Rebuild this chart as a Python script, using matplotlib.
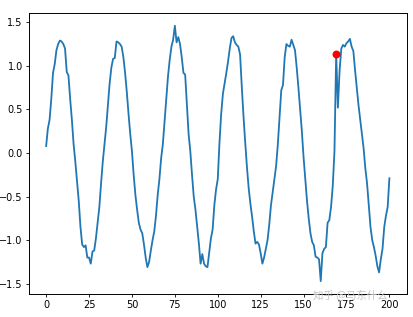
import matplotlib
matplotlib.use("Agg")
import matplotlib.pyplot as plt

# series values, x = 0..200
values = [
    0.08, 0.28, 0.38, 0.62, 0.92, 1.02, 1.18, 1.25, 1.29, 1.28,
    1.25, 1.20, 0.93, 0.89, 0.62, 0.38, 0.10, -0.10, -0.32, -0.55,
    -0.85, -1.05, -1.08, -1.06, -1.20, -1.20, -1.27, -1.13, -1.12, -0.98,
    -0.80, -0.62, -0.35, -0.10, 0.10, 0.30, 0.55, 0.80, 0.98, 1.08,
    1.09, 1.28, 1.27, 1.25, 1.22, 1.10, 0.92, 0.70, 0.45, 0.22,
    0.02, -0.25, -0.48, -0.65, -0.80, -0.88, -0.92, -1.05, -1.20, -1.31,
    -1.25, -1.12, -1.00, -0.90, -0.72, -0.48, -0.30, -0.06, 0.10, 0.36,
    0.62, 0.88, 1.07, 1.22, 1.30, 1.46, 1.27, 1.33, 1.25, 1.10,
    0.92, 0.90, 0.55, 0.22, 0.02, -0.25, -0.50, -0.65, -0.85, -1.04,
    -1.27, -1.16, -1.27, -1.30, -1.31, -1.15, -0.98, -0.88, -0.60, -0.42,
    -0.30, 0.12, 0.45, 0.68, 0.80, 0.92, 1.05, 1.20, 1.32, 1.34,
    1.27, 1.24, 1.22, 1.13, 0.76, 0.42, 0.12, -0.16, -0.40, -0.58,
    -0.73, -0.90, -1.04, -1.02, -1.05, -1.15, -1.27, -1.20, -1.10, -1.00,
    -0.82, -0.60, -0.45, -0.30, -0.15, 0.10, 0.42, 0.72, 0.78, 1.10,
    1.25, 1.23, 1.22, 1.30, 1.24, 1.18, 0.98, 0.75, 0.50, 0.25,
    -0.05, -0.30, -0.55, -0.75, -0.92, -1.02, -1.06, -1.19, -1.20, -1.22,
    -1.47, -1.15, -1.10, -1.08, -0.80, -0.77, -0.62, -0.38, 0.02, 1.14,
    0.52, 0.95, 1.20, 1.24, 1.22, 1.26, 1.28, 1.31, 1.22, 1.17,
    0.95, 0.75, 0.55, 0.38, 0.20, 0.05, -0.18, -0.35, -0.60, -0.85,
    -1.00, -1.08, -1.18, -1.30, -1.37, -1.22, -1.10, -0.85, -0.72, -0.62,
    -0.29,
]
x = list(range(len(values)))

anomaly_x = [169]
anomaly_y = [values[169]]

fig = plt.figure(figsize=(4.14, 3.17), dpi=100)
ax = fig.add_axes([0.070, 0.073, 0.912, 0.886])

ax.plot(x, values, color="#1f77b4", linewidth=1.3)
ax.scatter(anomaly_x, anomaly_y, color="red", s=22, zorder=3)

ax.set_xticks([0, 25, 50, 75, 100, 125, 150, 175, 200])
ax.set_yticks([-1.5, -1.0, -0.5, 0.0, 0.5, 1.0, 1.5])
ax.tick_params(labelsize=7, length=2.5, width=0.6, pad=2)
for s in ax.spines.values():
    s.set_linewidth(0.7)

# watermark (sits on the bottom spine in the reference)
fig.text(0.845, 0.068, "知乎 @马东什么", fontsize=7.5, color="#c4c4c4",
         family=["Noto Sans CJK SC", "DejaVu Sans"], ha="center", va="center")

fig.savefig("out.png", dpi=100)
